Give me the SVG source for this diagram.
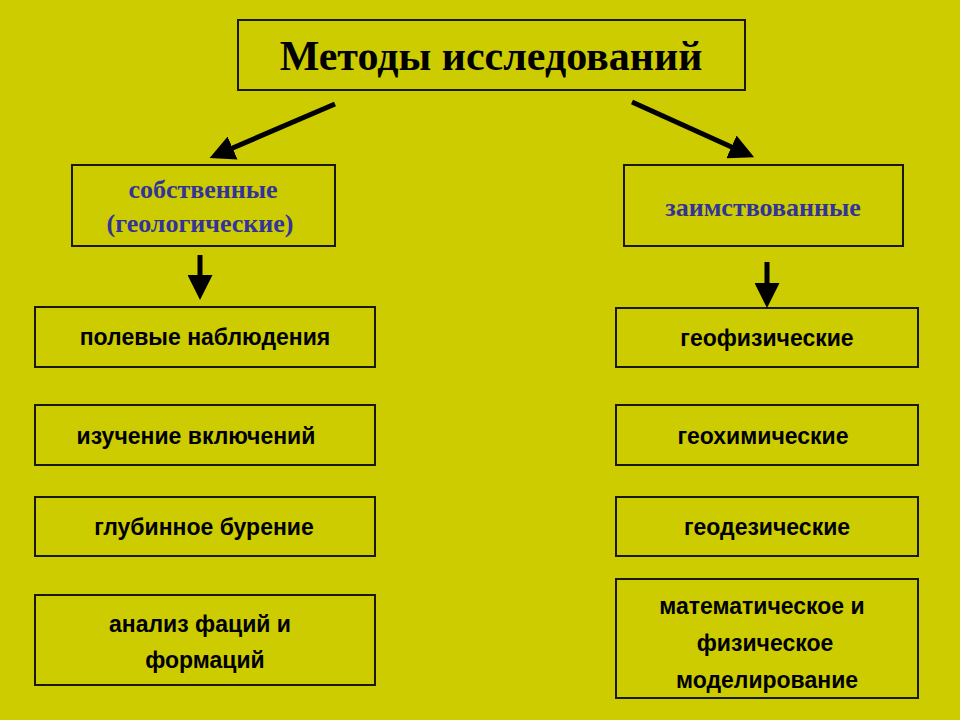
<svg xmlns="http://www.w3.org/2000/svg" width="960" height="720" viewBox="0 0 960 720">
<style>
.b{fill:none;stroke:#1a1a00;stroke-width:2}
.t{font-family:"Liberation Sans",Arial,sans-serif;font-weight:bold;font-size:23px;fill:#000;text-anchor:middle}
.s{font-family:"Liberation Serif","Times New Roman",serif;font-weight:bold;font-size:26px;fill:#333399;text-anchor:middle}
.c{stroke:#000;stroke-width:5;fill:none;marker-end:url(#a)}
</style>
<defs><marker id="a" markerWidth="5" markerHeight="5" refX="1" refY="2.5" orient="auto"><path d="M0,0L5,2.5L0,5z" fill="#000"/></marker></defs>
<rect width="960" height="720" fill="#cccc00"/>
<g id="title"><rect class="b" x="238" y="20" width="507" height="70"/><text x="491" y="70" font-family="Liberation Serif,serif" font-weight="bold" font-size="42" text-anchor="middle">Методы исследований</text></g>
<g id="own"><rect class="b" x="72" y="165" width="263" height="81"/><text class="s" x="203" y="198">собственные</text><text class="s" x="200" y="232">(геологические)</text></g>
<g id="borrowed"><rect class="b" x="624" y="165" width="279" height="81"/><text class="s" x="763" y="216">заимствованные</text></g>
<g id="l1"><rect class="b" x="35" y="307" width="340" height="60"/><text class="t" x="205" y="345">полевые наблюдения</text></g>
<g id="l2"><rect class="b" x="35" y="405" width="340" height="60"/><text class="t" x="196" y="444">изучение включений</text></g>
<g id="l3"><rect class="b" x="35" y="497" width="340" height="59"/><text class="t" x="204" y="535">глубинное бурение</text></g>
<g id="l4"><rect class="b" x="35" y="595" width="340" height="90"/><text class="t" x="200" y="632">анализ фаций и</text><text class="t" x="205" y="668">формаций</text></g>
<g id="r1"><rect class="b" x="616" y="308" width="302" height="59"/><text class="t" x="767" y="346">геофизические</text></g>
<g id="r2"><rect class="b" x="616" y="405" width="302" height="60"/><text class="t" x="763" y="444">геохимические</text></g>
<g id="r3"><rect class="b" x="616" y="497" width="302" height="59"/><text class="t" x="767" y="535">геодезические</text></g>
<g id="r4"><rect class="b" x="616" y="579" width="302" height="119"/><text class="t" x="762" y="614">математическое и</text><text class="t" x="765" y="651">физическое</text><text class="t" x="767" y="688">моделирование</text></g>
<g id="connectors">
<line class="c" x1="335" y1="104" x2="228" y2="150"/>
<line class="c" x1="632" y1="102" x2="736" y2="149"/>
<line class="c" x1="200" y1="255" x2="200" y2="280"/>
<line class="c" x1="767" y1="262" x2="767" y2="288"/>
</g>
</svg>
